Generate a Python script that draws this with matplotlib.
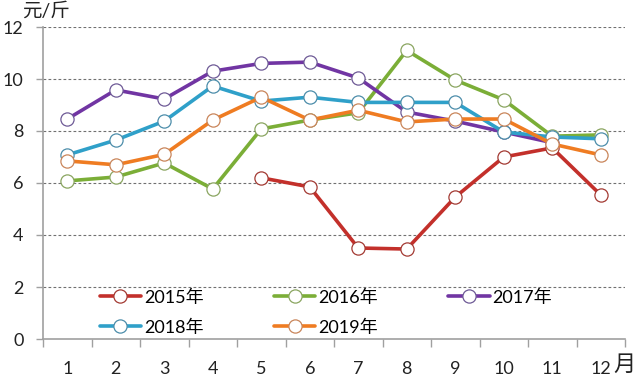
import matplotlib
matplotlib.use("Agg")
import matplotlib.pyplot as plt
import numpy as np

plt.rcParams['font.family'] = ['Lato', 'Noto Sans CJK SC', 'DejaVu Sans']

months = ['1', '2', '3', '4', '5', '6', '7', '8', '9', '10', '11', '12']
s2015 = [None, None, None, None, 6.2, 5.85, 3.5, 3.46, 5.46, 7.0, 7.35, 5.54]
s2016 = [6.08, 6.23, 6.77, 5.77, 8.08, 8.42, 8.7, 11.1, 9.96, 9.2, 7.8, 7.85]
s2017 = [8.46, 9.58, 9.23, 10.3, 10.6, 10.65, 10.04, 8.73, 8.38, 7.96, 7.55, None]
s2018 = [7.08, 7.65, 8.38, 9.73, 9.15, 9.3, 9.1, 9.1, 9.1, 7.96, 7.77, 7.7]
s2019 = [6.85, 6.7, 7.1, 8.42, 9.3, 8.42, 8.8, 8.35, 8.46, 8.46, 7.5, 7.08]
labels = ['2015年', '2016年', '2017年', '2018年', '2019年']
series = [s2015, s2016, s2017, s2018, s2019]
colors = ['#C3302B', '#7BAE37', '#7135A3', '#2FA0C9', '#EF7C22']
edges = ['#A33A33', '#8AA560', '#6E5A96', '#4C8DAA', '#C9855A']

fig = plt.figure(figsize=(6.4, 3.77), dpi=100)
ax = fig.add_axes([43/640, 1-339/377, (625-43)/640, (339-27)/377])

x = np.arange(1, 13)
handles = []
for s, lab, c, ec in zip(series, labels, colors, edges):
    y = np.array([np.nan if v is None else v for v in s], dtype=float)
    h, = ax.plot(x, y, color=c, lw=2.6, marker='o', ms=9.5, mfc='white',
                 mec=ec, mew=0.9, label=lab, solid_capstyle='round')
    handles.append(h)

ax.set_xlim(0.5, 12.5)
ax.set_ylim(0, 12)
ax.set_yticks(np.arange(0, 13, 2))
ax.set_xticks(x)
ax.set_xticklabels(months, family='Lato')
ax.set_xticks(np.arange(0.5, 13, 1), minor=True)
ax.tick_params(axis='x', which='major', length=0, pad=16, labelsize=13, colors='#222222')
ax.tick_params(axis='x', which='minor', length=6, color='#A0A0A0', width=1, direction='out')
ax.tick_params(axis='y', length=5, color='#A0A0A0', width=1, pad=9, labelsize=13, colors='#222222')

for v in range(2, 13, 2):
    ax.axhline(v, color='#707070', lw=0.8, ls=(0, (2.5, 2)), zorder=0)

for sp in ['top', 'right']:
    ax.spines[sp].set_visible(False)
ax.spines['left'].set_color('#A0A0A0')
ax.spines['bottom'].set_color('#A0A0A0')
ax.spines['left'].set_linewidth(1.2)
ax.spines['bottom'].set_linewidth(1.2)

# legend filled row-wise: matplotlib fills column-wise
order = [0, 3, 1, 4, 2]
leg = ax.legend(handles=[handles[i] for i in order], ncol=3, loc='lower left',
                bbox_to_anchor=(0.085, -0.012),
                frameon=False, fontsize=13, handlelength=2.3, columnspacing=3.9,
                handletextpad=0.15, labelspacing=0.75, borderaxespad=0.0)

fig.text(22/640, 1-11/377, '元/斤', fontsize=14, va='center', ha='left', color='#222222')
fig.text(624/640, 1-365/377, '月', fontsize=16, va='center', ha='center', color='#222222')

fig.savefig('out.png', dpi=100)
